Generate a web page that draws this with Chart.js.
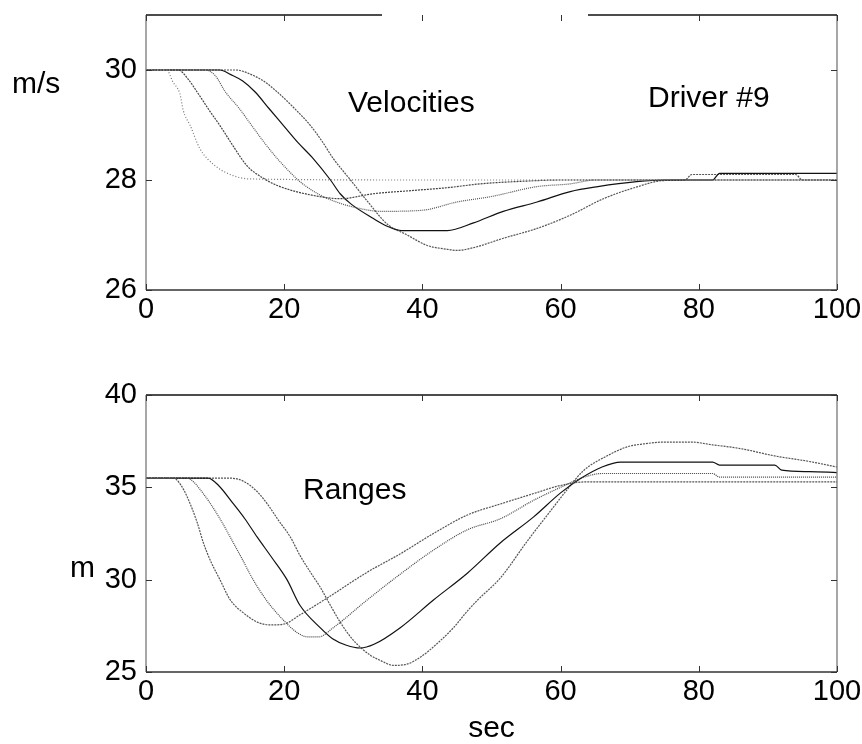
<!DOCTYPE html>
<html>
<head>
<meta charset="utf-8">
<script src="https://cdn.jsdelivr.net/npm/chart.js@4.4.1/dist/chart.umd.min.js"></script>
<style>
  html, body { margin: 0; padding: 0; background: #fff; }
  #wrap { position: relative; width: 862px; height: 744px; }
  .box { position: absolute; left: 0; width: 862px; height: 372px; }
</style>
</head>
<body>
<div id="wrap">
  <div class="box" style="top:0"><canvas id="velChart"></canvas></div>
  <div class="box" style="top:372px"><canvas id="rangeChart"></canvas></div>
</div>
<script>
// axes
const xTicks = [0, 20, 40, 60, 80, 100];
const velTicks = [26, 28, 30];
const rangeTicks = [25, 30, 35, 40];

// Vitesses (m/s) - 5 essais
const velT1 = [0, 3, 3.9, 4.9, 5.4, 6.4, 7.8, 10, 12.6, 15, 40, 100];
const velV1 = [30, 30, 29.78, 29.57, 29.26, 28.99, 28.57, 28.26, 28.08, 28.02, 28.0, 28.0];
const velT2 = [0, 4.7, 6, 7.4, 9.3, 10.7, 12.6, 14.6, 17, 19.4, 24.2, 28.1, 32.9, 38.7, 43.6, 48.4, 55, 60, 100];
const velV2 = [30, 30, 29.85, 29.6, 29.24, 28.99, 28.62, 28.26, 28.03, 27.88, 27.72, 27.66, 27.75, 27.81, 27.86, 27.93, 27.98, 28.0, 28.0];
const velT3 = [0, 8.6, 10, 11.5, 13.5, 15.3, 17, 19, 22, 23, 25, 28, 31, 34, 40, 45, 50, 56.6, 61.4, 65, 100];
const velV3 = [30, 30, 29.9, 29.6, 29.3, 28.99, 28.7, 28.39, 28.0, 27.9, 27.74, 27.58, 27.48, 27.43, 27.45, 27.6, 27.7, 27.88, 27.93, 28.0, 28.0];
const velT4 = [0, 10.7, 12.2, 14, 15.8, 17.8, 19.9, 22, 24.2, 26.7, 28.1, 29.6, 32.9, 34.9, 37, 43.6, 47.4, 51.7, 56.6, 61.4, 65.4, 71, 75, 82, 83, 100];
const velV4 = [30, 30, 29.92, 29.8, 29.6, 29.3, 28.99, 28.68, 28.39, 28.0, 27.75, 27.57, 27.3, 27.16, 27.08, 27.08, 27.22, 27.43, 27.6, 27.79, 27.88, 27.97, 28.0, 28.0, 28.12, 28.12];
const velT5 = [0, 13, 15, 17, 19, 21.5, 23.8, 25.5, 27.1, 29.6, 32, 34.9, 37.8, 40.7, 43.6, 45, 47.4, 51.7, 56.6, 61.4, 66.2, 71.2, 74.9, 78, 79, 94, 95, 100];
const velV5 = [30, 30, 29.93, 29.8, 29.6, 29.3, 28.99, 28.7, 28.39, 28.0, 27.62, 27.2, 27.0, 26.81, 26.74, 26.72, 26.77, 26.94, 27.12, 27.36, 27.66, 27.88, 27.99, 28.0, 28.1, 28.1, 28.0, 28.0];

// Distances (m) - 4 essais
const rngT1 = [0, 4, 5, 6, 7.4, 8.3, 9.3, 10.7, 12.2, 14.1, 16.1, 18, 20, 22.3, 26.2, 32, 36.8, 41.6, 46.5, 51.3, 56, 60, 64, 70, 100];
const rngR1 = [35.5, 35.5, 35.15, 34.45, 33.1, 32.0, 31.05, 30.0, 28.9, 28.2, 27.7, 27.55, 27.6, 28.1, 29.0, 30.4, 31.4, 32.5, 33.5, 34.1, 34.65, 35.1, 35.3, 35.3, 35.3];
const rngT2 = [0, 6, 7, 8, 9.3, 10.7, 12.2, 13.8, 15.5, 17.6, 19.9, 22, 23.5, 25, 27.1, 32, 36.8, 41.6, 46.5, 51.3, 56.1, 60, 63, 66, 82, 83, 100];
const rngR2 = [35.5, 35.5, 35.25, 34.8, 34.13, 33.3, 32.3, 31.2, 30.0, 28.8, 27.8, 27.1, 26.9, 26.9, 27.4, 28.9, 30.3, 31.6, 32.7, 33.3, 34.3, 35.0, 35.5, 35.75, 35.75, 35.55, 35.55];
const rngT3 = [0, 9, 10.5, 12.6, 14.3, 16.1, 18.2, 20.4, 22.3, 25.2, 27, 29, 31, 33, 36.8, 41.6, 46.5, 51.3, 56.1, 60, 63, 66, 68.7, 82, 83, 91, 92, 96, 100];
const rngR3 = [35.5, 35.5, 35.1, 34.13, 33.3, 32.3, 31.2, 30.0, 28.6, 27.4, 26.8, 26.45, 26.3, 26.5, 27.4, 28.9, 30.35, 32.0, 33.4, 34.7, 35.5, 36.1, 36.37, 36.37, 36.2, 36.2, 35.93, 35.85, 35.8];
const rngT4 = [0, 12, 14, 16, 17.5, 19.2, 20.9, 22.3, 23.8, 25.2, 26.7, 28.1, 29.6, 31, 32.5, 33.9, 35.8, 37.5, 39.7, 42.6, 44.5, 46.5, 48, 51.3, 55.2, 58.6, 61, 63.3, 66.7, 69.7, 72, 75, 79, 82, 86, 91, 96, 100];
const rngR4 = [35.5, 35.5, 35.35, 34.8, 34.13, 33.2, 32.3, 31.3, 30.4, 29.6, 28.6, 27.7, 26.9, 26.35, 25.9, 25.63, 25.36, 25.4, 25.8, 26.7, 27.4, 28.3, 28.9, 30.1, 32.1, 33.75, 34.9, 35.9, 36.7, 37.2, 37.35, 37.45, 37.45, 37.3, 37.1, 36.7, 36.4, 36.1];

const fontFamily = "'Liberation Sans', Arial, Helvetica, sans-serif";
const tickFont = { family: fontFamily, size: 29 };

function series(t, v, color, dash) {
  return {
    data: t.map((x, i) => ({ x: x, y: v[i] })),
    borderColor: color,
    borderWidth: 1.2,
    borderDash: dash,
    pointRadius: 0,
    fill: false,
    cubicInterpolationMode: "monotone",
  };
}

// cadre, graduations vers l'intérieur et annotations
const framePlugin = {
  id: "frame",
  afterDraw(chart, args, opts) {
    const { ctx, chartArea: a, scales } = chart;
    const line = (x1, y1, x2, y2, c) => {
      ctx.strokeStyle = c;
      ctx.beginPath();
      ctx.moveTo(x1, y1);
      ctx.lineTo(x2, y2);
      ctx.stroke();
    };
    ctx.save();
    ctx.lineWidth = 1.3;
    line(a.left, a.top, a.left, a.bottom, "#777");
    line(a.right, a.top, a.right, a.bottom, "#777");
    line(a.left, a.bottom, a.right, a.bottom, "#333");
    if (opts.topGap) {
      line(a.left, a.top, opts.topGap[0], a.top, "#111");
      line(opts.topGap[1], a.top, a.right, a.top, "#111");
    } else {
      line(a.left, a.top, a.right, a.top, "#111");
    }
    ctx.lineWidth = 1;
    scales.x.ticks.forEach((t) => {
      const px = Math.round(scales.x.getPixelForValue(t.value)) + 0.5;
      line(px, a.bottom, px, a.bottom - 6, "#333");
      line(px, a.top, px, a.top + 6, "#333");
    });
    scales.y.ticks.forEach((t) => {
      const py = Math.round(scales.y.getPixelForValue(t.value)) + 0.5;
      line(a.left, py, a.left + 6, py, "#333");
      line(a.right, py, a.right - 6, py, "#333");
    });
    ctx.fillStyle = "#000";
    ctx.font = "30px " + fontFamily;
    ctx.textBaseline = "alphabetic";
    (opts.notes || []).forEach((n) => ctx.fillText(n.text, n.x, n.y));
    ctx.restore();
  },
};

function makeOptions(yMin, yMax, yTicks, xHeight, padTop, frame, xTitle) {
  return {
    responsive: true,
    maintainAspectRatio: false,
    animation: false,
    layout: { padding: { top: padTop, right: 25, left: 0, bottom: 0 } },
    plugins: { legend: { display: false }, tooltip: { enabled: false }, frame: frame },
    scales: {
      x: {
        type: "linear",
        min: 0,
        max: 100,
        grid: { display: false, drawTicks: false },
        border: { display: false },
        ticks: { color: "#000", font: tickFont, padding: 3, maxRotation: 0, autoSkip: false },
        title: xTitle
          ? { display: true, text: xTitle, color: "#000", font: { family: fontFamily, size: 30, lineHeight: 1 }, padding: { top: 0, bottom: 0 } }
          : { display: false },
        afterBuildTicks: (s) => { s.ticks = xTicks.map((v) => ({ value: v })); },
        afterFit: (s) => { s.height = xHeight; s.paddingLeft = 0; s.paddingRight = 0; },
      },
      y: {
        type: "linear",
        min: yMin,
        max: yMax,
        grid: { display: false, drawTicks: false },
        border: { display: false },
        ticks: { color: "#000", font: tickFont, padding: 9 },
        afterBuildTicks: (s) => { s.ticks = yTicks.map((v) => ({ value: v })); },
        afterFit: (s) => { s.width = 146; s.paddingTop = 0; s.paddingBottom = 0; },
      },
    },
  };
}

new Chart(document.getElementById("velChart"), {
  type: "line",
  data: {
    datasets: [
      series(velT1, velV1, "#777", [1, 2]),
      series(velT2, velV2, "#444", [2, 1]),
      series(velT3, velV3, "#555", [1, 1]),
      series(velT4, velV4, "#111", []),
      series(velT5, velV5, "#555", [2, 1]),
    ],
  },
  options: makeOptions(26, 31, velTicks, 82, 15, {
    topGap: [382, 588],
    notes: [
      { text: "m/s", x: 12, y: 93 },
      { text: "Velocities", x: 348, y: 112 },
      { text: "Driver #9", x: 648, y: 107 },
    ],
  }),
  plugins: [framePlugin],
});

new Chart(document.getElementById("rangeChart"), {
  type: "line",
  data: {
    datasets: [
      series(rngT1, rngR1, "#555", [2, 1]),
      series(rngT2, rngR2, "#444", [1, 1]),
      series(rngT3, rngR3, "#111", []),
      series(rngT4, rngR4, "#555", [2, 1]),
    ],
  },
  options: makeOptions(25, 40, rangeTicks, 72, 23, {
    notes: [
      { text: "Ranges", x: 303, y: 127 },
      { text: "m", x: 70, y: 205 },
    ],
  }, "sec"),
  plugins: [framePlugin],
});
</script>
</body>
</html>
